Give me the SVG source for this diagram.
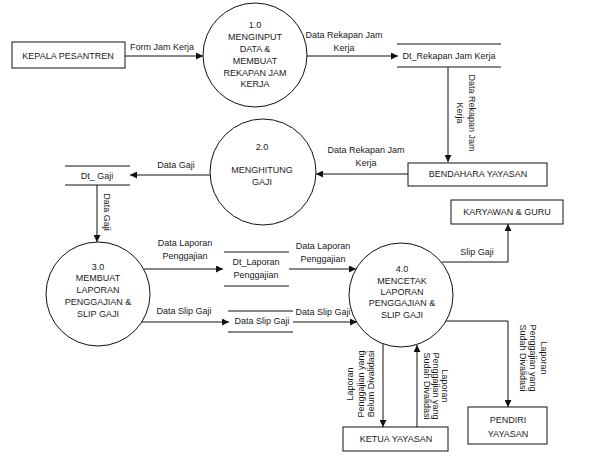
<svg xmlns="http://www.w3.org/2000/svg" width="590" height="476" viewBox="0 0 590 476">
<defs>
<marker id="arr" viewBox="0 0 10 10" refX="10" refY="5" markerWidth="7" markerHeight="7" markerUnits="userSpaceOnUse" orient="auto">
<path d="M0,0 L10,5 L0,10 z" fill="#111"/>
</marker>
</defs>
<style>
text{font-family:"Liberation Sans",Arial,sans-serif;font-size:9px;fill:#1a1a1a;text-anchor:middle}
.box{fill:#fff;stroke:#111;stroke-width:1}
.proc{fill:#fff;stroke:#111;stroke-width:1}
.store{stroke:#111;stroke-width:1;fill:none}
.flow{stroke:#111;stroke-width:1;fill:none;marker-end:url(#arr)}
</style>
<rect width="590" height="476" fill="#fff"/>

<g id="connectors">
<path class="flow" d="M125,56 H203"/>
<text x="162" y="50">Form Jam Kerja</text>

<path class="flow" d="M307,56 H398"/>
<text x="344" y="38">Data Rekapan Jam</text>
<text x="344" y="51">Kerja</text>

<path class="flow" d="M448,67 V162"/>
<text transform="translate(469,113) rotate(90)">Data Rekapan Jam</text>
<text transform="translate(469,113) rotate(90)" y="12">Kerja</text>

<path class="flow" d="M408,174 H316"/>
<text x="366" y="153">Data Rekapan Jam</text>
<text x="366" y="166">Kerja</text>

<path class="flow" d="M210,175 H130"/>
<text x="176" y="168">Data Gaji</text>

<path class="flow" d="M97,185 V242"/>
<text transform="translate(104,212) rotate(90)">Data Gaji</text>

<path class="flow" d="M144,269 H223"/>
<text x="185" y="246">Data Laporan</text>
<text x="185" y="259">Penggajian</text>

<path class="flow" d="M289,269 H356"/>
<text x="323" y="249">Data Laporan</text>
<text x="323" y="262">Penggajian</text>

<path class="flow" d="M142,322 H229"/>
<text x="184" y="314">Data Slip Gaji</text>

<path class="flow" d="M293,322 H357"/>
<text x="323" y="315">Data Slip Gaji</text>

<path class="flow" d="M442,262 H508 V224"/>
<text x="477" y="255">Slip Gaji</text>

<path class="flow" d="M446,321 H508 V407"/>
<text transform="translate(541,358) rotate(90)">Laporan</text>
<text transform="translate(541,358) rotate(90)" y="11">Penggajian yang</text>
<text transform="translate(541,358) rotate(90)" y="21">Sudah Divalidasi</text>

<path class="flow" d="M383,344 V427"/>
<text transform="translate(353,384) rotate(-90)">Laporan</text>
<text transform="translate(353,384) rotate(-90)" y="11">Penggajian yang</text>
<text transform="translate(353,384) rotate(-90)" y="21">Belum Divalidasi</text>

<path class="flow" d="M417,427 V345"/>
<text transform="translate(442,386) rotate(90)">Laporan</text>
<text transform="translate(442,386) rotate(90)" y="9">Penggajian yang</text>
<text transform="translate(442,386) rotate(90)" y="18">Sudah Divalidasi</text>
</g>

<g id="kepala-pesantren">
<rect class="box" x="12" y="42" width="113" height="26"/>
<text x="68" y="59">KEPALA PESANTREN</text>
</g>

<g id="p1">
<circle class="proc" cx="255" cy="55" r="52"/>
<text x="255" y="27.5">1.0</text>
<text x="255" y="39.5">MENGINPUT</text>
<text x="255" y="51.5">DATA  &amp;</text>
<text x="255" y="63.5">MEMBUAT</text>
<text x="255" y="75.5">REKAPAN JAM</text>
<text x="255" y="87">KERJA</text>
</g>

<g id="dt-rekapan">
<path class="store" d="M397,44 H501 M397,67 H501"/>
<text x="449" y="59">Dt_Rekapan Jam Kerja</text>
</g>

<g id="bendahara">
<rect class="box" x="408" y="163" width="139" height="23"/>
<text x="478" y="177">BENDAHARA YAYASAN</text>
</g>

<g id="p2">
<circle class="proc" cx="263" cy="172" r="53"/>
<text x="262" y="150">2.0</text>
<text x="262" y="173">MENGHITUNG</text>
<text x="262" y="185">GAJI</text>
</g>

<g id="dt-gaji">
<path class="store" d="M65,166 H130 M65,185 H130"/>
<text x="97" y="179">Dt_ Gaji</text>
</g>

<g id="p3">
<circle class="proc" cx="98" cy="294" r="52"/>
<text x="98" y="269.5">3.0</text>
<text x="98" y="280.5">MEMBUAT</text>
<text x="98" y="292.5">LAPORAN</text>
<text x="98" y="304.5">PENGGAJIAN &amp;</text>
<text x="98" y="316.5">SLIP GAJI</text>
</g>

<g id="dt-laporan">
<path class="store" d="M224,252 H289 M224,286 H289"/>
<text x="256" y="265">Dt_Laporan</text>
<text x="256" y="278">Penggajian</text>
</g>

<g id="data-slip-gaji">
<path class="store" d="M228,311 H293 M228,332 H293"/>
<text x="262" y="324">Data Slip Gaji</text>
</g>

<g id="p4">
<circle class="proc" cx="401" cy="295" r="52"/>
<text x="402" y="271.5">4.0</text>
<text x="402" y="283.5">MENCETAK</text>
<text x="402" y="294.5">LAPORAN</text>
<text x="402" y="305.5">PENGGAJIAN &amp;</text>
<text x="402" y="317.5">SLIP GAJI</text>
</g>

<g id="karyawan-guru">
<rect class="box" x="451" y="200" width="112" height="24"/>
<text x="507" y="215">KARYAWAN &amp; GURU</text>
</g>

<g id="pendiri">
<rect class="box" x="468" y="407" width="79" height="37"/>
<text x="508" y="423">PENDIRI</text>
<text x="508" y="437">YAYASAN</text>
</g>

<g id="ketua">
<rect class="box" x="343" y="427" width="105" height="24"/>
<text x="396" y="442">KETUA YAYASAN</text>
</g>
</svg>
